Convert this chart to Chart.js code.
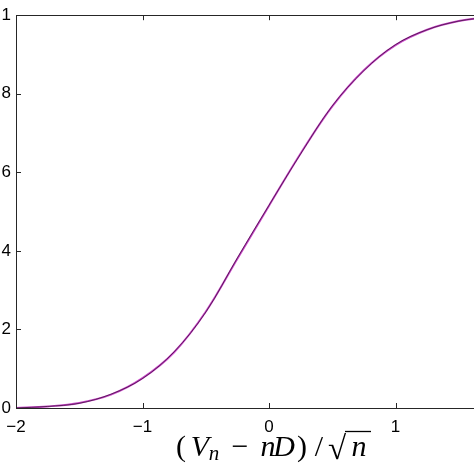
<!DOCTYPE html>
<html>
<head>
<meta charset="utf-8">
<script src="https://cdn.jsdelivr.net/npm/chart.js@4/dist/chart.umd.min.js"></script>
<style>
  html, body { margin: 0; padding: 0; background: #fff; overflow: hidden; width: 474px; height: 474px; }
  #wrap { position: absolute; left: -24px; top: 0; width: 560px; height: 474px; }
</style>
</head>
<body>
<div id="wrap"><canvas id="c" width="560" height="474"></canvas></div>
<script>
// ---- data ----
const xValues = [-2.0, -1.75, -1.5, -1.25, -1.0, -0.75, -0.5, -0.25, 0.0, 0.25, 0.5, 0.75, 1.0, 1.25, 1.5, 1.75, 2.0];
const theoryCdf = [0.000, 0.004, 0.013, 0.034, 0.076, 0.142, 0.245, 0.380, 0.515, 0.648, 0.768, 0.860, 0.924, 0.963, 0.985, 0.995, 0.999];
const empiricalCdf = [0.000, 0.004, 0.012, 0.035, 0.075, 0.143, 0.244, 0.382, 0.516, 0.647, 0.769, 0.859, 0.925, 0.963, 0.985, 0.995, 0.999];
const xTicks = [-2, -1, 0, 1, 2];
const yTicks = [0, 0.2, 0.4, 0.6, 0.8, 1];

const toPts = ys => xValues.map((x, i) => ({x: x, y: ys[i]}));

const frame = {
  id: 'frame',
  afterDraw(chart) {
    const ctx = chart.ctx, a = chart.chartArea;
    const xs = chart.scales.x, ys = chart.scales.y;
    ctx.save();
    ctx.strokeStyle = '#262626';
    ctx.lineWidth = 1;
    ctx.beginPath();
    ctx.rect(Math.round(a.left) + 0.5, Math.round(a.top) + 0.5, Math.round(a.right - a.left), Math.round(a.bottom - a.top));
    ctx.stroke();
    const L = 5;
    ctx.beginPath();
    xTicks.forEach(v => {
      const p = Math.round(xs.getPixelForValue(v)) + 0.5;
      ctx.moveTo(p, a.bottom); ctx.lineTo(p, a.bottom - L);
      ctx.moveTo(p, a.top); ctx.lineTo(p, a.top + L);
    });
    yTicks.forEach(v => {
      const p = Math.round(ys.getPixelForValue(v)) + 0.5;
      ctx.moveTo(a.left, p); ctx.lineTo(a.left + L, p);
      ctx.moveTo(a.right, p); ctx.lineTo(a.right - L, p);
    });
    ctx.stroke();

    // x-axis title (V_n − nD)/√n
    const x0 = a.left, b = a.bottom;
    const it = '30px "Liberation Serif", "DejaVu Serif", serif';
    const itl = 'italic 30px "Liberation Serif", "DejaVu Serif", serif';
    const sub = 'italic 21px "Liberation Serif", "DejaVu Serif", serif';
    const rad = '33px "Liberation Serif", "DejaVu Serif", serif';
    const parts = [
      ['(', it, 165, 48],
      ['V', itl, 184, 48],
      ['n', sub, 198, 52],
      ['\u2212', it, 224, 48],
      ['n', itl, 252, 48],
      ['D', itl, 268, 48],
      [')', it, 286, 48],
      ['/', it, 303, 48],
      ['\u221A', rad, 321, 51],
      ['n', itl, 343, 48]
    ];
    ctx.fillStyle = '#000';
    ctx.textAlign = 'center';
    ctx.textBaseline = 'alphabetic';
    parts.forEach(([t, f, dx, dy]) => {
      ctx.font = f;
      ctx.fillText(t, x0 + dx, b + dy);
    });
    ctx.beginPath();
    ctx.lineWidth = 1.3;
    ctx.strokeStyle = '#000';
    ctx.moveTo(x0 + 329, b + 23.5);
    ctx.lineTo(x0 + 355, b + 23.5);
    ctx.stroke();
    ctx.restore();
  }
};

new Chart(document.getElementById('c'), {
  type: 'scatter',
  data: {
    datasets: [
      {
        label: 'theory',
        data: toPts(theoryCdf),
        showLine: true,
        borderColor: 'rgb(200,70,200)',
        borderWidth: 2,
        pointRadius: 0,
        tension: 0.35,
        order: 2
      },
      {
        label: 'empirical',
        data: toPts(empiricalCdf),
        showLine: true,
        borderColor: 'rgba(20,0,20,0.6)',
        borderWidth: 1,
        pointRadius: 0,
        tension: 0.35,
        order: 1
      }
    ]
  },
  options: {
    responsive: false,
    animation: false,
    layout: { padding: { top: 12, right: 14, left: 0, bottom: 0 } },
    plugins: { legend: { display: false }, tooltip: { enabled: false } },
    scales: {
      x: {
        type: 'linear', min: -2, max: 2,
        afterBuildTicks: s => { s.ticks = xTicks.map(v => ({value: v})); },
        afterFit: s => { s.height = 66; },
        grid: { display: false, drawTicks: false },
        border: { display: false },
        ticks: {
          padding: 9,
          color: '#000',
          font: { family: '"Liberation Sans", Arial, sans-serif', size: 17 },
          callback: v => v < 0 ? '\u2212' + Math.abs(v) : String(v)
        }
      },
      y: {
        type: 'linear', min: 0, max: 1,
        afterBuildTicks: s => { s.ticks = yTicks.map(v => ({value: v})); },
        afterFit: s => { s.width = 40; },
        grid: { display: false, drawTicks: false },
        border: { display: false },
        ticks: {
          padding: 5,
          color: '#000',
          font: { family: '"Liberation Sans", Arial, sans-serif', size: 17 },
          callback: v => (v === 0 ? '0' : v === 1 ? '1' : Number(v).toFixed(1))
        }
      }
    }
  },
  plugins: [frame]
});
</script>
</body>
</html>
